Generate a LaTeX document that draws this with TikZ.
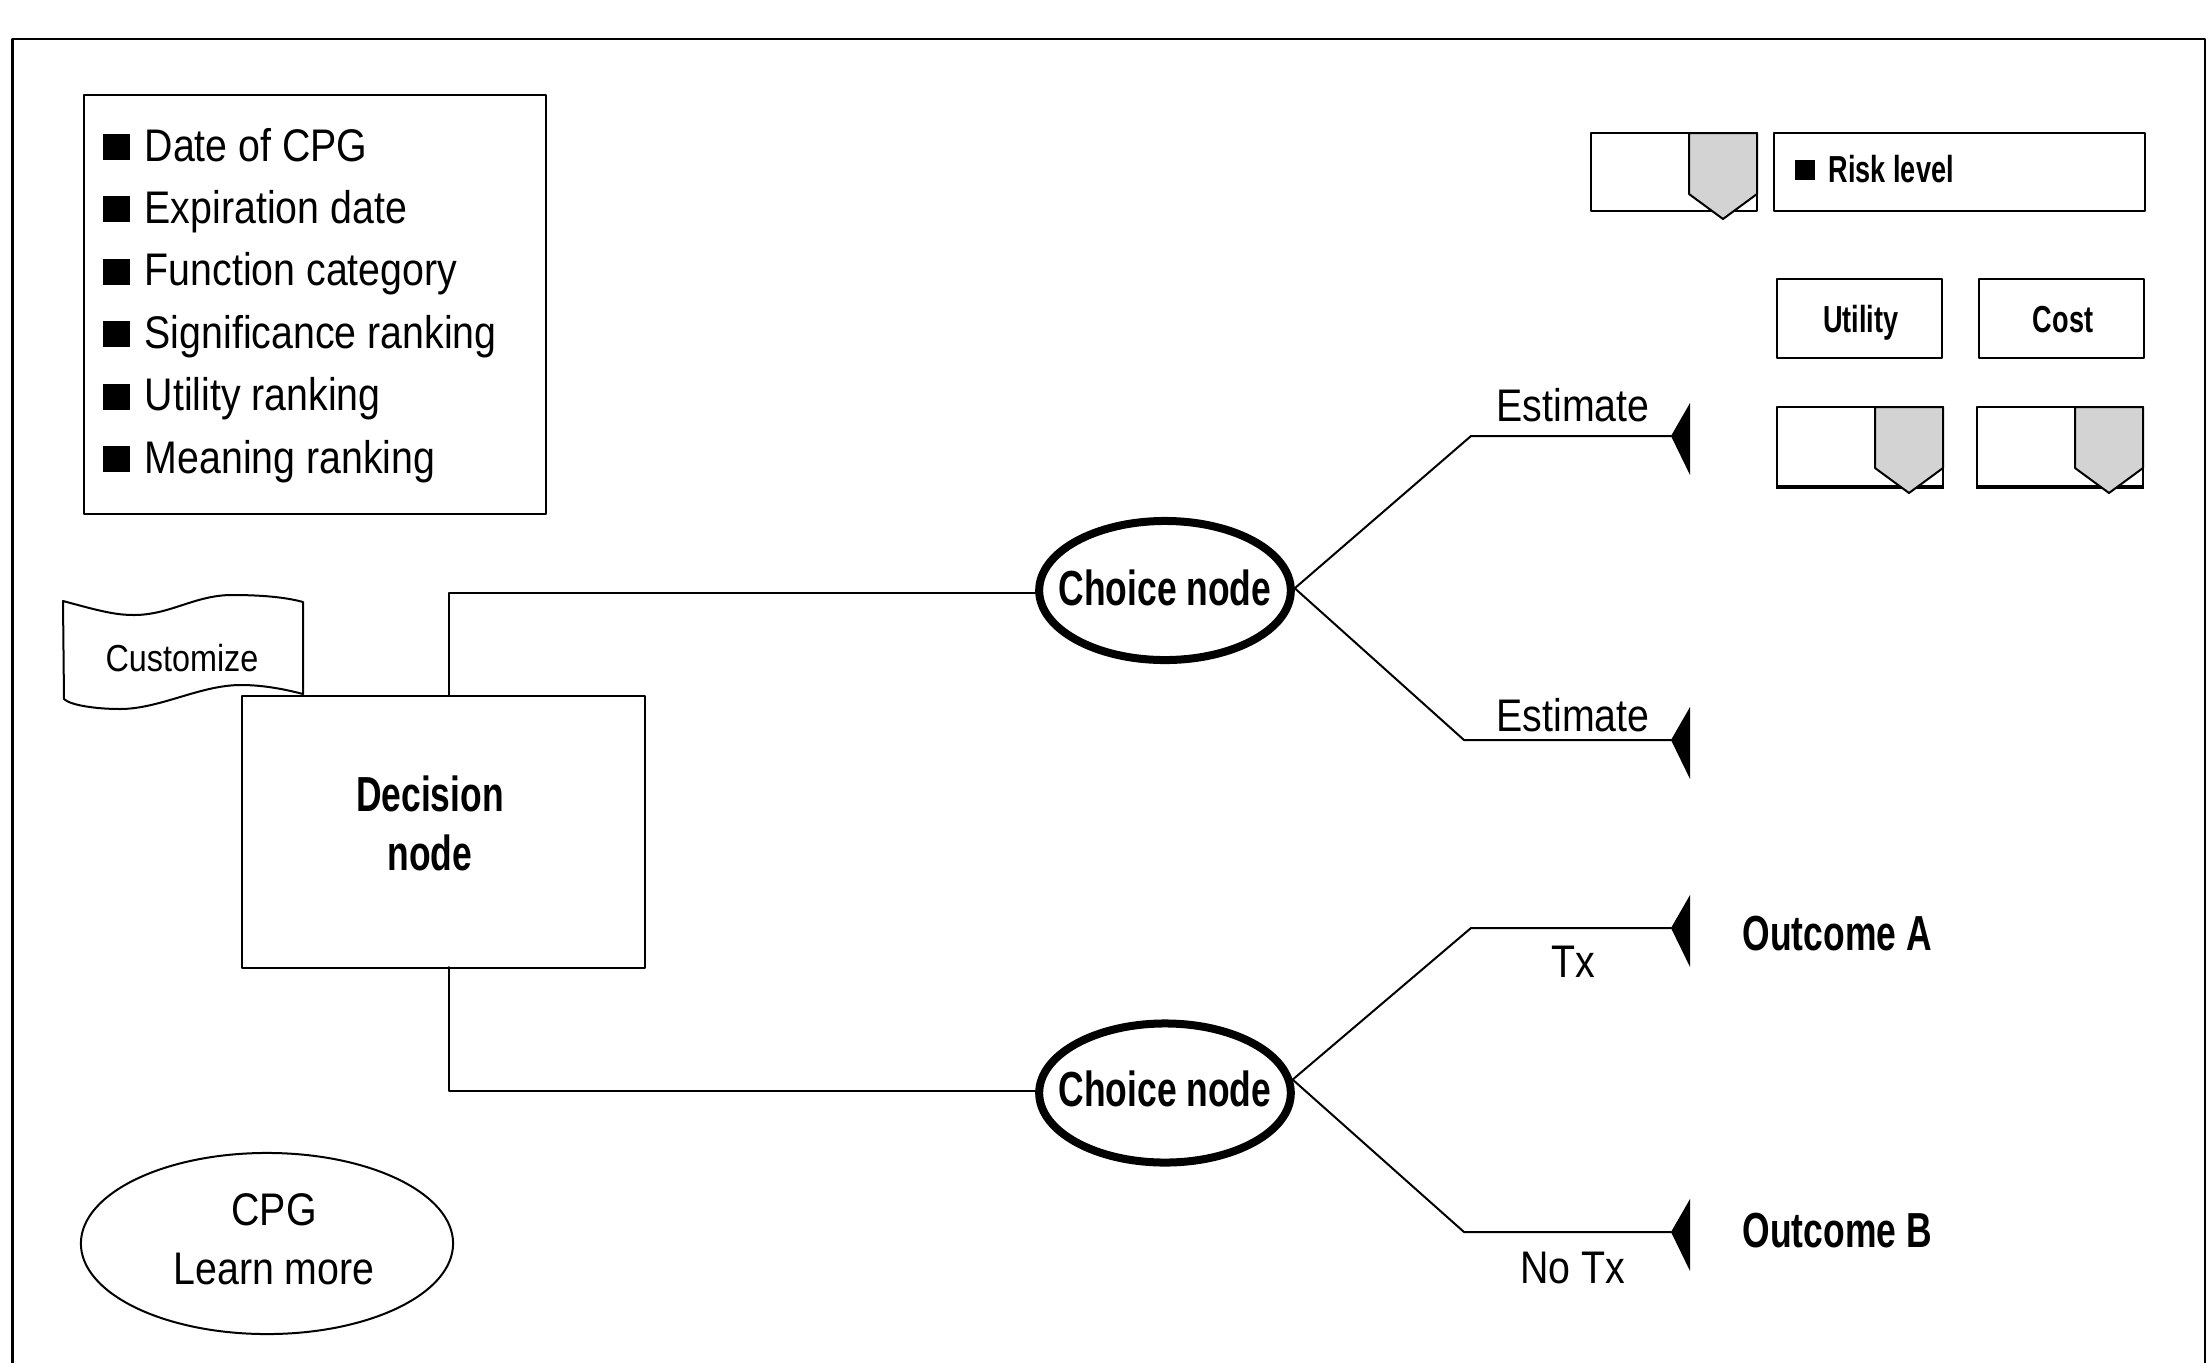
\documentclass[tikz,border=0pt]{standalone}
\usepackage{fontspec}
\setmainfont{Liberation Sans}[FakeStretch=0.86,BoldFeatures={FakeStretch=0.72}]
\usetikzlibrary{shapes.geometric}
\definecolor{flaggray}{HTML}{D3D3D3}
\tikzset{
    thinline/.style={draw=black, line width=0.02cm},
    box/.style={thinline, rectangle, fill=white, inner sep=0pt},
    choicenode/.style={ellipse, draw=black, fill=white, line width=0.08cm, inner sep=0pt, minimum width=2.515cm, minimum height=1.39cm},
    infonode/.style={ellipse, thinline, inner sep=0pt, minimum width=3.72cm, minimum height=1.81cm},
    bullet/.style={rectangle, fill=black, inner sep=0pt},
    txt/.style={inner sep=0pt, anchor=base, font=\fontsize{13}{16}\selectfont},
    boldtxt/.style={inner sep=0pt, anchor=base, font=\fontsize{14}{16.6}\selectfont\bfseries},
    smallbold/.style={font=\fontsize{10.7}{13}\selectfont\bfseries},
    flag/.style={thinline, fill=flaggray},
}

\begin{document}
\begin{tikzpicture}[line cap=round,line join=round,x=0.01cm,y=-0.01cm]
    \useasboundingbox (0,0) rectangle (2208,1363);

    % outer frame, runs off the page at the bottom
    \draw[thinline] (12.5,1363) -- (12.5,39) -- (2205,39) -- (2205,1363);

    % CPG properties
    \draw (315,304.5) node[box, minimum width=4.62cm, minimum height=4.19cm] (props) {};
    \foreach \i/\prop in {0/Date of CPG, 1/Expiration date, 2/Function category, 3/Significance ranking, 4/Utility ranking, 5/Meaning ranking} {
            \draw (116.5,{147+62.4*\i}) node[bullet, minimum size=0.26cm] (bul\i) {};
            \draw (144,{161+62.4*\i}) node[txt, anchor=base west] (prop\i) {\prop};
        }

    % Customize flag sits behind the decision box
    \draw[thinline, fill=white] (63,601) .. controls (100,611) and (115,615) .. (134,615)
        .. controls (170,615) and (195,595) .. (232,595)
        .. controls (260,595) and (285,597) .. (303,602) -- (303,694)
        .. controls (280,688) and (260,685) .. (241,685)
        .. controls (200,685) and (160,709) .. (120,709)
        .. controls (95,709) and (70,705) .. (64,699) -- cycle;
    \draw (182,671) node[txt, font=\fontsize{10.7}{13}\selectfont] (custom) {Customize};

    % Decision box
    \draw (443.5,832) node[box, minimum width=4.03cm, minimum height=2.72cm] (dec) {};
    \draw (430,811) node[boldtxt] (dec1) {Decision};
    \draw (430,870) node[boldtxt] (dec2) {node};
    \coordinate (decT) at (449,696);
    \coordinate (decB) at (449,967);

    % Choice nodes
    \draw (1165,590.5) node[choicenode, label={[font=\fontsize{14}{16}\selectfont\bfseries, yshift=0.03cm]center:Choice node}] (C1) {};
    \draw (1165,1093) node[choicenode, label={[font=\fontsize{14}{16}\selectfont\bfseries, yshift=0.04cm]center:Choice node}] (C2) {};

    % Ends of the branches
    \coordinate (J1) at (1471,436);
    \coordinate (J2) at (1464,740);
    \coordinate (J3) at (1471,928);
    \coordinate (J4) at (1464,1232);
    \coordinate (T1) at (1671,436);
    \coordinate (T2) at (1671,740);
    \coordinate (T3) at (1671,928);
    \coordinate (T4) at (1671,1232);

    % Edges
    \draw[thinline] (decT) |- (C1.181);
    \draw[thinline] (decB) |- (C2.179);
    \foreach \source/\mid/\target in {C1.1/J1/T1, C1.1/J2/T2, C2.6/J3/T3, C2.6/J4/T4} {
            \draw[thinline] (\source) -- (\mid) -- (\target);
            \fill[black] (\target) -- ++(19,-33) -- ++(0,72) -- cycle;
        }

    \draw (1573,421.5) node[txt] (est1) {Estimate};
    \draw (1573,731) node[txt] (est2) {Estimate};
    \draw (1573,977) node[txt] (tx) {Tx};
    \draw (1573,1283) node[txt] (notx) {No Tx};
    \draw (1742,950.5) node[boldtxt, anchor=base west] (outA) {Outcome A};
    \draw (1742,1247) node[boldtxt, anchor=base west] (outB) {Outcome B};

    % CPG ellipse
    \draw (267,1243.5) node[infonode, label={[align=center, font=\fontsize{13}{16.8}\selectfont, xshift=0.07cm, yshift=0.04cm]center:CPG\\Learn more}] (info) {};

    % Risk level and the two small tables
    \draw (1674,172) node[box, minimum width=1.66cm, minimum height=0.78cm] (slot0) {};
    \draw (1959.5,172) node[box, minimum width=3.71cm, minimum height=0.78cm] (risk) {};
    \draw (1805,170) node[bullet, minimum size=0.2cm] (riskbul) {};
    \draw (1828,182) node[boldtxt, smallbold, anchor=base west] (risktxt) {Risk level};
    \draw (1860.75,332) node[boldtxt, smallbold] (utiltxt) {Utility};
    \draw (2063,332) node[boldtxt, smallbold] (costtxt) {Cost};
    \draw (1859.5,318.5) node[thinline, inner sep=0pt, minimum width=1.65cm, minimum height=0.79cm] (util) {};
    \draw (2061.5,318.5) node[thinline, inner sep=0pt, minimum width=1.65cm, minimum height=0.79cm] (cost) {};
    \draw (1860,446.5) node[box, minimum width=1.66cm, minimum height=0.79cm] (slot1) {};
    \draw (2060,446.5) node[box, minimum width=1.66cm, minimum height=0.79cm] (slot2) {};
    \draw[line width=0.035cm, line cap=butt] (slot1.south west) -- (slot1.south east);
    \draw[line width=0.035cm, line cap=butt] (slot2.south west) -- (slot2.south east);

    % grey flags
    \foreach \x/\y in {1689/133, 1875/407, 2075/407} {
            \draw[flag] (\x,\y) -- ++(68,0) -- ++(0,61) -- ++(-34,25) -- ++(-34,-25) -- cycle;
        }
\end{tikzpicture}
\end{document}
